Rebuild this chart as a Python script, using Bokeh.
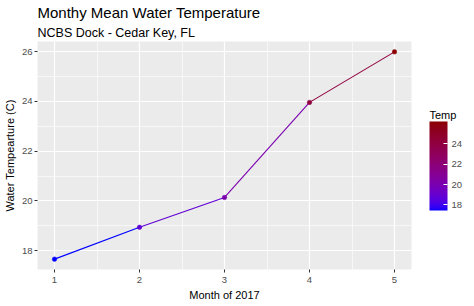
import numpy as np
from bokeh.plotting import figure
from bokeh.layouts import row
from bokeh.models import (ColumnDataSource, LinearColorMapper, ColorBar,
                          FixedTicker, Title, Range1d, Label)
from bokeh.transform import transform
from bokeh.embed import file_html
from bokeh.resources import INLINE

# Monthly mean water temperature at the NCBS dock
months = [1, 2, 3, 4, 5]
temps = [17.66, 18.94, 20.14, 23.96, 25.99]

x_ticks = [1, 2, 3, 4, 5]
y_ticks = [18, 20, 22, 24, 26]
legend_ticks = [18, 20, 22, 24]

title_text = "Monthy Mean Water Temperature"
subtitle_text = "NCBS Dock - Cedar Key, FL"
x_label = "Month of 2017"
y_label = "Water Tempearture (C)"
legend_title = "Temp"

FONT = "Liberation Sans"


# ---- colour gradient interpolated in CIE Lab (blue -> red4) ----
def _hex_to_rgb(h):
    h = h.lstrip("#")
    return np.array([int(h[i:i + 2], 16) for i in (0, 2, 4)], dtype=float) / 255.0


def _rgb_to_lab(rgb):
    lin = np.where(rgb <= 0.04045, rgb / 12.92, ((rgb + 0.055) / 1.055) ** 2.4)
    m = np.array([[0.4124564, 0.3575761, 0.1804375],
                  [0.2126729, 0.7151522, 0.0721750],
                  [0.0193339, 0.1191920, 0.9503041]])
    xyz = m @ lin / np.array([0.95047, 1.0, 1.08883])
    f = np.where(xyz > 0.008856, np.cbrt(xyz), 7.787 * xyz + 16 / 116)
    return np.array([116 * f[1] - 16, 500 * (f[0] - f[1]), 200 * (f[1] - f[2])])


def _lab_to_hex(lab):
    fy = (lab[0] + 16) / 116
    fx = fy + lab[1] / 500
    fz = fy - lab[2] / 200
    f = np.array([fx, fy, fz])
    xyz = np.where(f ** 3 > 0.008856, f ** 3, (f - 16 / 116) / 7.787)
    xyz = xyz * np.array([0.95047, 1.0, 1.08883])
    mi = np.array([[3.2404542, -1.5371385, -0.4985314],
                   [-0.9692660, 1.8760108, 0.0415560],
                   [0.0556434, -0.2040259, 1.0572252]])
    lin = np.clip(mi @ xyz, 0, 1)
    rgb = np.where(lin <= 0.0031308, 12.92 * lin, 1.055 * lin ** (1 / 2.4) - 0.055)
    rgb = np.clip(np.round(rgb * 255), 0, 255).astype(int)
    return "#%02x%02x%02x" % tuple(rgb)


def lab_palette(low, high, n=256):
    a, b = _rgb_to_lab(_hex_to_rgb(low)), _rgb_to_lab(_hex_to_rgb(high))
    return [_lab_to_hex(a + (b - a) * t) for t in np.linspace(0, 1, n)]


palette = lab_palette("#0000FF", "#8B0000")
t_min, t_max = min(temps), max(temps)
mapper = LinearColorMapper(palette=palette, low=t_min, high=t_max)

# the legend bar extends half a bin (of 20) past the data limits
pad = (t_max - t_min) / 19 / 2
bar_mapper = LinearColorMapper(palette=palette, low=t_min - pad, high=t_max + pad)

# ---- main chart ----
x_span = max(months) - min(months)
y_span = t_max - t_min
p = figure(frame_width=374, frame_height=228,
           output_backend="svg", toolbar_location=None,
           x_range=Range1d(min(months) - 0.05 * x_span, max(months) + 0.05 * x_span),
           y_range=Range1d(t_min - 0.05 * y_span, t_max + 0.05 * y_span),
           min_border_left=36, min_border_right=10, min_border_top=0,
           min_border_bottom=36)
p.title.visible = False

p.background_fill_color = "#EBEBEB"
p.border_fill_color = "white"
p.outline_line_color = None

# grid
p.xgrid.ticker = FixedTicker(ticks=x_ticks,
                             minor_ticks=[(a + b) / 2 for a, b in zip(x_ticks, x_ticks[1:])])
p.ygrid.ticker = FixedTicker(ticks=y_ticks,
                             minor_ticks=[(a + b) / 2 for a, b in zip(y_ticks, y_ticks[1:])])
for g in (p.xgrid, p.ygrid):
    g.grid_line_color = "white"
    g.grid_line_width = 1.2
    g.minor_grid_line_color = "white"
    g.minor_grid_line_width = 0.6

# axes
p.xaxis.ticker = FixedTicker(ticks=x_ticks)
p.yaxis.ticker = FixedTicker(ticks=y_ticks)
p.xaxis.axis_label = x_label
p.yaxis.axis_label = y_label
for ax in (p.xaxis, p.yaxis):
    ax.axis_line_color = None
    ax.major_tick_line_color = "#333333"
    ax.major_tick_out = 3
    ax.major_tick_in = 0
    ax.minor_tick_line_color = None
    ax.major_label_text_color = "#4D4D4D"
    ax.major_label_text_font = FONT
    ax.major_label_text_font_size = "9.5px"
    ax.axis_label_text_font = FONT
    ax.axis_label_text_font_size = "11px"
    ax.axis_label_text_font_style = "normal"
    ax.axis_label_text_color = "black"
p.xaxis.major_label_standoff = 4
p.xaxis.axis_label_standoff = 3
p.yaxis.major_label_standoff = 2
p.yaxis.axis_label_standoff = 3

# line segments, each coloured by its starting value
seg = ColumnDataSource(dict(x0=months[:-1], y0=temps[:-1],
                            x1=months[1:], y1=temps[1:], t=temps[:-1]))
p.segment("x0", "y0", "x1", "y1", source=seg,
          line_color=transform("t", mapper), line_width=1.1)

pts = ColumnDataSource(dict(x=months, y=temps, t=temps))
p.scatter("x", "y", source=pts, size=4.5, fill_color=transform("t", mapper),
          line_color=transform("t", mapper), line_width=0.5)

# titles (added nearest-first)
p.add_layout(Title(text=subtitle_text, text_font=FONT, text_font_size="12.5px",
                   text_font_style="normal", text_color="black", align="left",
                   standoff=4), "above")
p.add_layout(Title(text=title_text, text_font=FONT, text_font_size="15px",
                   text_font_style="normal", text_color="black", align="left",
                   standoff=2), "above")

# ---- legend panel: colour bar with its title ----
# (its frame lines up with the main plot area in the row)
leg = figure(width=54, height=306, output_backend="svg", toolbar_location=None,
             x_axis_location=None, y_axis_location=None, min_border=0,
             x_range=Range1d(0, 1), y_range=Range1d(0, 1))
leg.title.visible = False
leg.grid.visible = False
leg.outline_line_color = None
leg.background_fill_color = "white"
leg.border_fill_color = "white"

cb = ColorBar(color_mapper=bar_mapper, ticker=FixedTicker(ticks=legend_ticks),
              orientation="vertical", width=18, height=89,
              major_label_text_font=FONT, major_label_text_font_size="9.5px",
              major_label_text_color="#4D4D4D", label_standoff=4,
              major_tick_line_color="white", major_tick_in=4, major_tick_out=0,
              minor_tick_line_color=None, bar_line_color=None,
              border_line_color=None, background_fill_color=None,
              padding=0, margin=0, location=(8, 60))
leg.add_layout(cb, "center")
leg.add_layout(Label(x=8, y=156, x_units="screen", y_units="screen",
                     text=legend_title, text_font=FONT, text_font_size="11px",
                     text_color="black", text_baseline="alphabetic"))

layout = row(p, leg, spacing=0)
open("out.html", "w").write(file_html(layout, INLINE))
